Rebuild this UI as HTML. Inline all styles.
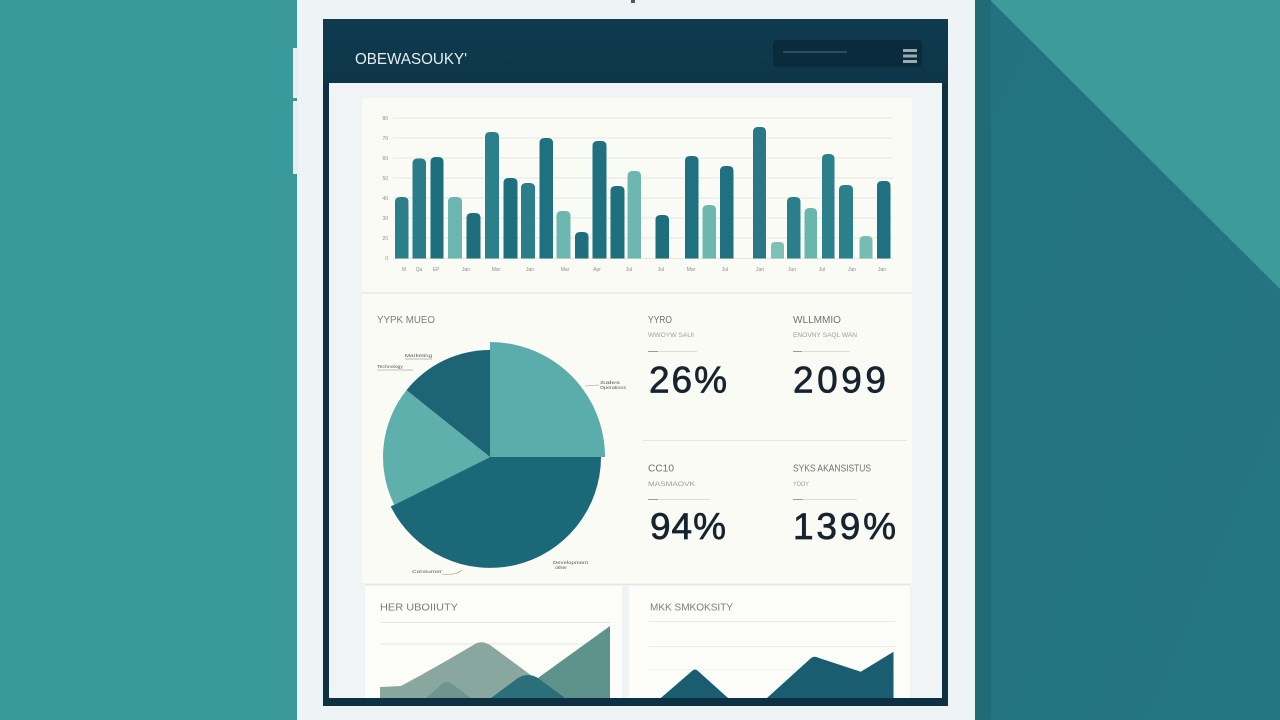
<!DOCTYPE html>
<html><head><meta charset="utf-8"><style>
html,body{margin:0;padding:0;width:1280px;height:720px;overflow:hidden;background:#3a9a9b}
svg{display:block}
text{font-family:"Liberation Sans",sans-serif}
</style></head><body>
<svg width="1280" height="720" viewBox="0 0 1280 720" xmlns="http://www.w3.org/2000/svg">
<defs>
<linearGradient id="rg" x1="0" y1="0" x2="1" y2="1">
<stop offset="0" stop-color="#22737e"/><stop offset="1" stop-color="#247681"/>
</linearGradient>
<linearGradient id="hg" x1="0" y1="0" x2="0" y2="1">
<stop offset="0" stop-color="#0f3a4f"/><stop offset="1" stop-color="#0e3649"/>
</linearGradient>
</defs>
<!-- background -->
<rect width="1280" height="720" fill="#3a9a9b"/>
<rect x="975" y="0" width="305" height="720" fill="url(#rg)"/>
<polygon points="990,0 1280,0 1280,289" fill="#3d9b9c"/>
<rect x="975" y="0" width="16" height="720" fill="#1f6c77"/>
<!-- device -->
<rect x="297" y="0" width="678" height="720" fill="#eef3f5"/>
<rect x="293" y="48" width="5" height="50" fill="#e8eef0"/>
<rect x="293" y="101" width="5" height="73" fill="#e8eef0"/>
<rect x="631" y="0" width="4" height="3" fill="#4a5a60"/>
<!-- frame -->
<rect x="323" y="19" width="625" height="687" fill="#0d3143"/>
<rect x="323" y="19" width="625" height="64" fill="url(#hg)"/>
<rect x="329" y="83" width="613" height="615" fill="#f0f4f4"/>
<!-- header -->
<text x="355" y="64" font-size="16" fill="#e6eef0" textLength="112" lengthAdjust="spacingAndGlyphs">OBEWASOUKY'</text>
<rect x="773" y="40" width="149" height="27" rx="4" fill="#0a2b3c"/>
<line x1="783" y1="52" x2="847" y2="52" stroke="#3a5a69" stroke-width="1.5"/>
<rect x="903" y="49" width="14" height="3" fill="#9aa9b0"/>
<rect x="903" y="54.5" width="14" height="3" fill="#9aa9b0"/>
<rect x="903" y="60" width="14" height="3" fill="#9aa9b0"/>
<!-- cards -->
<rect x="362" y="98" width="550" height="194" fill="#fbfbf6"/>
<rect x="362" y="294" width="550" height="289" fill="#fbfbf6"/>
<rect x="365" y="586" width="257" height="112" fill="#fcfcf8"/>
<rect x="629" y="586" width="281" height="112" fill="#fcfcf8"/>
<!-- bar chart grid -->
<g stroke="#e4e6e1" stroke-width="1">
<line x1="393" y1="118" x2="893" y2="118"/>
<line x1="393" y1="138" x2="893" y2="138"/>
<line x1="393" y1="158" x2="893" y2="158"/>
<line x1="393" y1="178" x2="893" y2="178"/>
<line x1="393" y1="198" x2="893" y2="198"/>
<line x1="393" y1="218" x2="893" y2="218"/>
<line x1="393" y1="238" x2="893" y2="238"/>
<line x1="393" y1="258.5" x2="893" y2="258.5"/>
</g>
<g font-size="5" fill="#8a8f90" text-anchor="end">
<text x="388" y="120">80</text><text x="388" y="140">70</text><text x="388" y="160">60</text>
<text x="388" y="180">50</text><text x="388" y="200">40</text><text x="388" y="220">30</text>
<text x="388" y="240">20</text><text x="388" y="260">0</text>
</g>
<g font-size="5" fill="#8a8f90" text-anchor="middle">
<text x="404" y="271">M</text><text x="419" y="271">Qa</text><text x="436" y="271">EP</text>
<text x="466" y="271">Jan</text><text x="496" y="271">Mar</text><text x="530" y="271">Jan</text>
<text x="565" y="271">Mar</text><text x="597" y="271">Apr</text><text x="629" y="271">Jul</text>
<text x="661" y="271">Jul</text><text x="691" y="271">Mar</text><text x="725" y="271">Jul</text>
<text x="760" y="271">Jan</text><text x="792" y="271">Jun</text><text x="822" y="271">Jul</text>
<text x="852" y="271">Jan</text><text x="882" y="271">Jan</text>
</g>
<!-- bars -->
<g>
<path d="M395,258.5 V202 Q395,197 400,197 H403.5 Q408.5,197 408.5,202 V258.5 Z" fill="#2b7f8b"/>
<path d="M412.5,258.5 V163.5 Q412.5,158.5 417.5,158.5 H421 Q426,158.5 426,163.5 V258.5 Z" fill="#2a7c88"/>
<path d="M430.5,258.5 V162 Q430.5,157 435.5,157 H438.5 Q443.5,157 443.5,162 V258.5 Z" fill="#1e6f7e"/>
<path d="M448,258.5 V202 Q448,197 453,197 H457 Q462,197 462,202 V258.5 Z" fill="#6bb7b0"/>
<path d="M466.5,258.5 V218 Q466.5,213 471.5,213 H475.5 Q480.5,213 480.5,218 V258.5 Z" fill="#1e6e7e"/>
<path d="M485,258.5 V137 Q485,132 490,132 H494 Q499,132 499,137 V258.5 Z" fill="#2b808c"/>
<path d="M503.5,258.5 V183 Q503.5,178 508.5,178 H512.5 Q517.5,178 517.5,183 V258.5 Z" fill="#1e6f7e"/>
<path d="M521,258.5 V188 Q521,183 526,183 H530 Q535,183 535,188 V258.5 Z" fill="#2b7e8a"/>
<path d="M539.5,258.5 V143 Q539.5,138 544.5,138 H548 Q553,138 553,143 V258.5 Z" fill="#1f7080"/>
<path d="M556.5,258.5 V216 Q556.5,211 561.5,211 H565.5 Q570.5,211 570.5,216 V258.5 Z" fill="#6cb8b0"/>
<path d="M575,258.5 V237 Q575,232 580,232 H583.5 Q588.5,232 588.5,237 V258.5 Z" fill="#1e6e7e"/>
<path d="M592.5,258.5 V146 Q592.5,141 597.5,141 H601.5 Q606.5,141 606.5,146 V258.5 Z" fill="#1f7080"/>
<path d="M610.5,258.5 V191 Q610.5,186 615.5,186 H619.5 Q624.5,186 624.5,191 V258.5 Z" fill="#1f6f7e"/>
<path d="M627.5,258.5 V176 Q627.5,171 632.5,171 H636 Q641,171 641,176 V258.5 Z" fill="#6cb8b0"/>
<path d="M655.5,258.5 V220 Q655.5,215 660.5,215 H664 Q669,215 669,220 V258.5 Z" fill="#1e6e7e"/>
<path d="M685,258.5 V161 Q685,156 690,156 H693.5 Q698.5,156 698.5,161 V258.5 Z" fill="#1f7080"/>
<path d="M702.5,258.5 V210 Q702.5,205 707.5,205 H711 Q716,205 716,210 V258.5 Z" fill="#6cb8b0"/>
<path d="M720,258.5 V171 Q720,166 725,166 H728.5 Q733.5,166 733.5,171 V258.5 Z" fill="#1f7080"/>
<path d="M753,258.5 V132 Q753,127 758,127 H761 Q766,127 766,132 V258.5 Z" fill="#2a7886"/>
<path d="M771,258.5 V246 Q771,242 775,242 H780 Q784,242 784,246 V258.5 Z" fill="#7cc0b8"/>
<path d="M787,258.5 V202 Q787,197 792,197 H795.5 Q800.5,197 800.5,202 V258.5 Z" fill="#2b7f8b"/>
<path d="M804.5,258.5 V213 Q804.5,208 809.5,208 H812 Q817,208 817,213 V258.5 Z" fill="#6ab5ae"/>
<path d="M822,258.5 V159 Q822,154 827,154 H829.5 Q834.5,154 834.5,159 V258.5 Z" fill="#2b808c"/>
<path d="M839,258.5 V190 Q839,185 844,185 H848 Q853,185 853,190 V258.5 Z" fill="#2b808c"/>
<path d="M859.5,258.5 V241 Q859.5,236 864.5,236 H867.5 Q872.5,236 872.5,241 V258.5 Z" fill="#74bcb4"/>
<path d="M877,258.5 V186 Q877,181 882,181 H885.5 Q890.5,181 890.5,186 V258.5 Z" fill="#1f7080"/>
</g>
<!-- separators -->
<line x1="362" y1="293" x2="912" y2="293" stroke="#e6e9e6"/>
<line x1="643" y1="440.5" x2="907" y2="440.5" stroke="#e2e5e2"/>
<line x1="365" y1="584.5" x2="910" y2="584.5" stroke="#e4e7e4"/>
<line x1="625.5" y1="586" x2="625.5" y2="698" stroke="#edf0ee"/>
<!-- pie -->
<text x="377" y="323" font-size="10" fill="#7a7d7e" textLength="58" lengthAdjust="spacingAndGlyphs">YYPK MUEO</text>
<path d="M490,457 L490,342 A115,115 0 0 1 605,457 Z" fill="#5aadab"/>
<path d="M490,457 L601,457 A111,111 0 0 1 390.7,506.5 Z" fill="#1b6878"/>
<path d="M490,457 L394.2,504.7 A107,107 0 0 1 406.5,390.1 Z" fill="#5fb0ad"/>
<path d="M490,457 L406.5,390.1 A107,107 0 0 1 490,350 Z" fill="#1d6474"/>
<g font-size="4.5" fill="#555">
<text x="405" y="357" textLength="27" lengthAdjust="spacingAndGlyphs">Marketing</text>
<line x1="405" y1="359" x2="432" y2="359" stroke="#777" stroke-width="0.6"/>
<text x="377" y="368" textLength="26" lengthAdjust="spacingAndGlyphs">Technology</text>
<line x1="377" y1="370" x2="413" y2="370" stroke="#888" stroke-width="0.6"/>
<text x="600" y="384" textLength="20" lengthAdjust="spacingAndGlyphs">Sales</text>
<text x="600" y="389" textLength="26" lengthAdjust="spacingAndGlyphs">Operations</text>
<line x1="585" y1="386" x2="599" y2="385" stroke="#999" stroke-width="0.6"/>
<text x="412" y="573" textLength="30" lengthAdjust="spacingAndGlyphs">Consumer</text>
<path d="M442,574 Q455,576 462,570" fill="none" stroke="#999" stroke-width="0.6"/>
<text x="553" y="564" textLength="35" lengthAdjust="spacingAndGlyphs">Development</text>
<text x="555" y="569" textLength="12" lengthAdjust="spacingAndGlyphs">other</text>
</g>
<!-- stats -->
<g fill="#6e7274" font-size="10">
<text x="648" y="323" textLength="24" lengthAdjust="spacingAndGlyphs">YYRO</text>
<text x="793" y="323" textLength="48" lengthAdjust="spacingAndGlyphs">WLLMMIO</text>
<text x="648" y="471.5" textLength="26" lengthAdjust="spacingAndGlyphs">CC10</text>
<text x="793" y="471.5" textLength="78" lengthAdjust="spacingAndGlyphs">SYKS AKANSISTUS</text>
</g>
<g fill="#9a9d9e" font-size="6">
<text x="648" y="337" textLength="46" lengthAdjust="spacingAndGlyphs">WWOYW SAUI</text>
<text x="793" y="337" textLength="64" lengthAdjust="spacingAndGlyphs">ENOVNY SAQL WAN</text>
<text x="648" y="486" textLength="47" lengthAdjust="spacingAndGlyphs">MASMAOVK</text>
<text x="793" y="486" textLength="16" lengthAdjust="spacingAndGlyphs">YOOY</text>
</g>
<g stroke-width="1">
<line x1="648" y1="351.5" x2="697" y2="351.5" stroke="#dcdedd"/>
<line x1="648" y1="351.5" x2="658" y2="351.5" stroke="#9a9d9e"/>
<line x1="793" y1="351.5" x2="850" y2="351.5" stroke="#dcdedd"/>
<line x1="793" y1="351.5" x2="802" y2="351.5" stroke="#9a9d9e"/>
<line x1="648" y1="499.5" x2="710" y2="499.5" stroke="#dcdedd"/>
<line x1="648" y1="499.5" x2="658" y2="499.5" stroke="#9a9d9e"/>
<line x1="793" y1="499.5" x2="857" y2="499.5" stroke="#dcdedd"/>
<line x1="793" y1="499.5" x2="803" y2="499.5" stroke="#9a9d9e"/>
</g>
<g fill="#16242f" stroke="#16242f" stroke-width="0.7" font-size="37">
<text x="649" y="392.5" textLength="78" lengthAdjust="spacing">26%</text>
<text x="793" y="392.5" textLength="93" lengthAdjust="spacing">2099</text>
<text x="650" y="539" textLength="76" lengthAdjust="spacing">94%</text>
<text x="793" y="539" textLength="103" lengthAdjust="spacing">139%</text>
</g>
<!-- bottom left chart -->
<text x="380" y="610.5" font-size="10" fill="#7a7d7e" textLength="78" lengthAdjust="spacingAndGlyphs">HER UBOIIUTY</text>
<line x1="380" y1="622.5" x2="610" y2="622.5" stroke="#e6e7e3"/>
<line x1="380" y1="644" x2="610" y2="644" stroke="#e6e7e3"/>
<path d="M380,698 L380,687 L401,686 Q440,665 475,644 Q482,640 490,645 L532,676 L560,698 Z" fill="#89a79e"/>
<path d="M512,698 L540,676.5 L610,626 L610,698 Z" fill="#5e938c"/>
<path d="M426,698 L442,684 Q447,680 452,684 L471,698 Z" fill="#6e9590"/>
<path d="M491,698 L518,678 Q528,672 538,678 L565,698 Z" fill="#2b6f7a"/>
<!-- bottom right chart -->
<text x="650" y="610.5" font-size="10" fill="#7a7d7e" textLength="83" lengthAdjust="spacingAndGlyphs">MKK SMKOKSITY</text>
<line x1="649" y1="621.5" x2="895" y2="621.5" stroke="#ebece8"/>
<line x1="649" y1="646.5" x2="895" y2="646.5" stroke="#ebece8"/>
<line x1="649" y1="670" x2="895" y2="670" stroke="#f0f0ec"/>
<path d="M660.8,698 L692,671 Q695,668 698,671 L728,698 Z" fill="#1a5c70"/>
<path d="M767,698 L810,659 Q814,655 819,658 L860.8,671.7 L893.5,651.7 L893.5,698 Z" fill="#1a5c70"/>
<!-- frame bottom -->
<rect x="323" y="698" width="625" height="7" fill="#0d3143"/>
</svg>
</body></html>
